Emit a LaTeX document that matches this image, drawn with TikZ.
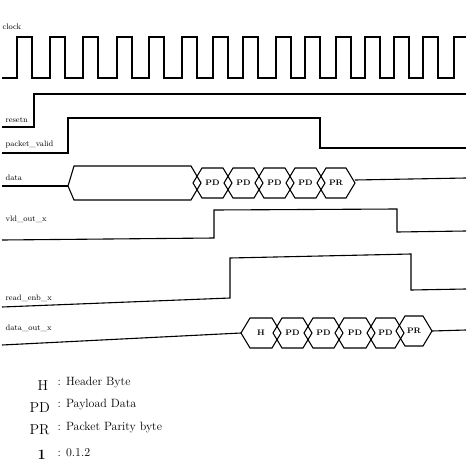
\documentclass[tikz,border=0pt]{standalone}
\usepackage{amsmath}
\usepackage{xcolor}
\usepackage{tikz}
\usetikzlibrary{arrows}

\newcommand{\hexbyte}[5]{% name, x1, x2, yc, label
	\draw (#2-4,#4) -- (#2+5,#4-15) -- (#3-5,#4-15) -- (#3+4,#4) -- (#3-5,#4+15) -- (#2+5,#4+15) -- cycle;
	\node[font=\footnotesize\bfseries] (#1) at ({(#2+#3)/2},#4) {#5};
}

\begin{document}
\begin{tikzpicture}[x=1pt,y=-1pt,line width=1.1pt]
	\useasboundingbox (0,0) rectangle (474,474);
	\tikzstyle{every node}=[inner sep=1pt,font=\footnotesize];
	\node[anchor=south west] (lclk) at (1,31) {clock};
	\node[anchor=south west] (lrst) at (4,124) {resetn};
	\node[anchor=south west] (lpv) at (4,150) {packet\_valid};
	\node[anchor=south west] (ldata) at (4,182) {data};
	\node[anchor=south west] (lvld) at (4,224) {vld\_out\_x};
	\node[anchor=south west] (lrd) at (4,303) {read\_enb\_x};
	\node[anchor=south west] (lout) at (4,333) {data\_out\_x};
	% clock
	\draw (2,78) foreach \r in {17,50,83,117,149,182,213,243,276,305,336,365,394,423} {-- (\r,78) -- (\r,37) -- (\r+15,37) -- (\r+15,78)} -- (454,78) -- (454,37) -- (466,37);
	% resetn, packet_valid
	\draw (2,127) -- (34,127) -- (34,94) -- (466,94);
	\draw (2,153) -- (68,153) -- (68,118) -- (320,118) -- (320,148) -- (466,148);
	% data
	\draw (2,186) -- (68,186);
	\draw (68,186) -- (74,166) -- (191,166) -- (201,183) -- (191,200) -- (74,200) -- cycle;
	\hexbyte{d1}{197}{228}{183}{PD}
	\hexbyte{d2}{228}{259}{183}{PD}
	\hexbyte{d3}{259}{290}{183}{PD}
	\hexbyte{d4}{290}{321}{183}{PD}
	\hexbyte{d5}{321}{351}{183}{PR}
	\draw (355,180) -- (466,178);
	% vld_out_x, read_enb_x
	\draw (2,240) -- (214,238) -- (214,210) -- (397,209) -- (397,232) -- (466,231);
	\draw (2,307) -- (230,298) -- (230,258) -- (411,254) -- (411,290) -- (466,289);
	% data_out_x
	\draw (2,345) -- (241,333);
	\hexbyte{o1}{245}{277}{333}{H}
	\hexbyte{o2}{277}{308}{333}{PD}
	\hexbyte{o3}{308}{339}{333}{PD}
	\hexbyte{o4}{339}{371}{333}{PD}
	\hexbyte{o5}{371}{400}{333}{PD}
	\hexbyte{o6}{400}{428}{331}{PR}
	\draw (432,331) -- (466,330);
	% legend
	\tikzstyle{every node}=[inner sep=1pt,font=\Large,anchor=west];
	\node (kH) at (36,386) {H};
	\node (kPD) at (28,408) {PD};
	\node (kPR) at (28,430) {PR};
	\node (kX) at (36,455) {\textbf{1}};
	\tikzstyle{every node}=[inner sep=1pt,font=\large,anchor=west];
	\node (tH) at (56,383) {: Header Byte};
	\node (tPD) at (56,405) {: Payload Data};
	\node (tPR) at (56,428) {: Packet Parity byte};
	\node (tX) at (56,453) {: 0.1.2};
\end{tikzpicture}
\end{document}
